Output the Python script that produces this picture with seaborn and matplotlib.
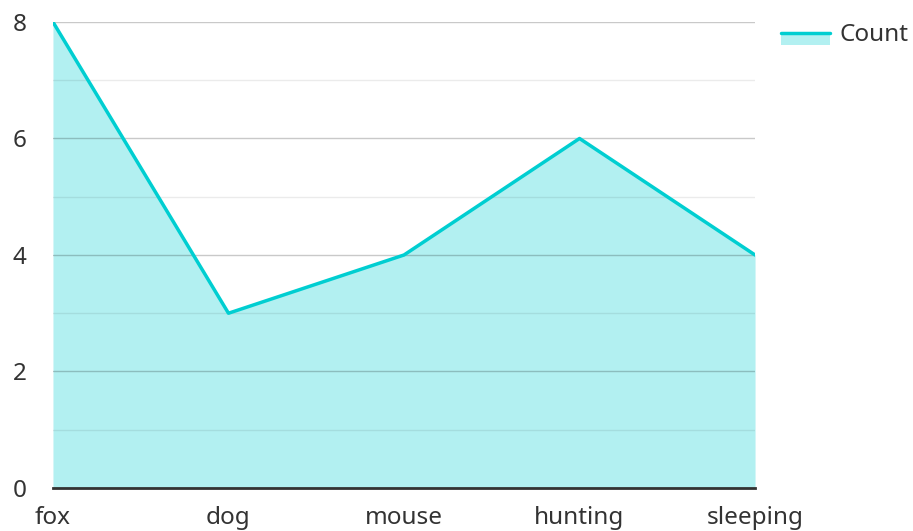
import pandas as pd
import numpy as np
import matplotlib.pyplot as plt
import seaborn as sns
from matplotlib.patches import Rectangle
from matplotlib.lines import Line2D

# ---------- data ----------
categories = ["fox", "dog", "mouse", "hunting", "sleeping"]
counts = [8, 3, 4, 6, 4]
series_name = "Count"

df = pd.DataFrame({"word": categories, "Count": counts})
df["pos"] = np.arange(len(categories))

# ---------- style ----------
sns.set_style("white")
plt.rcParams['font.family'] = ['Noto Sans', 'DejaVu Sans']
lineColor = "#00CED1"
textColor = "#333333"
fontSize = 17.5


class AreaHandler:
    # legend key: filled box with the line along its top edge
    def legend_artist(self, legend, orig_handle, fontsize, handlebox):
        x0, y0 = handlebox.xdescent, handlebox.ydescent
        w, h = handlebox.width, handlebox.height
        rect = Rectangle((x0, y0 - 0.25 * h), w, h * 0.72, facecolor=lineColor,
                         alpha=0.3, edgecolor="none", transform=handlebox.get_transform())
        line = Line2D([x0, x0 + w], [y0 + 0.47 * h, y0 + 0.47 * h], color=lineColor,
                      linewidth=2.5, transform=handlebox.get_transform())
        handlebox.add_artist(rect)
        handlebox.add_artist(line)
        return rect


fig = plt.figure(figsize=(9.13, 5.31), dpi=100)
ax = fig.add_axes([0.058, 0.081, 0.769, 0.8776])

ax.fill_between(df["pos"], df["Count"], 0, color=lineColor, alpha=0.3, linewidth=0, zorder=1)
sns.lineplot(data=df, x="pos", y="Count", color=lineColor, linewidth=2.5, ax=ax, zorder=3)

ax.set_xlim(0, len(categories) - 1)
ax.set_ylim(0, 8)
ax.set_xticks(df["pos"])
ax.set_xticklabels(categories)
ax.set_yticks([0, 2, 4, 6, 8])
ax.set_yticks([1, 3, 5, 7], minor=True)
ax.tick_params(axis="both", which="both", length=0, labelsize=fontSize, colors=textColor)
ax.tick_params(axis="x", pad=13)
ax.tick_params(axis="y", pad=19)

ax.grid(axis="y", which="major", color="black", alpha=0.21, linewidth=1.0, zorder=2)
ax.grid(axis="y", which="minor", color="black", alpha=0.08, linewidth=1.0, zorder=2)
ax.set_axisbelow(False)

for side in ["top", "right", "left"]:
    ax.spines[side].set_visible(False)
ax.spines["bottom"].set_color(textColor)
ax.spines["bottom"].set_linewidth(2)
ax.spines["bottom"].set_zorder(4)
ax.set_xlabel("")
ax.set_ylabel("")

proxy = Rectangle((0, 0), 1, 1)
ax.legend([proxy], [series_name], handler_map={Rectangle: AreaHandler()},
          loc="upper left", bbox_to_anchor=(1.006, 1.045), frameon=False,
          fontsize=fontSize, labelcolor=textColor, handlelength=2.0, handletextpad=0.4)

fig.savefig("out.png", dpi=100)
